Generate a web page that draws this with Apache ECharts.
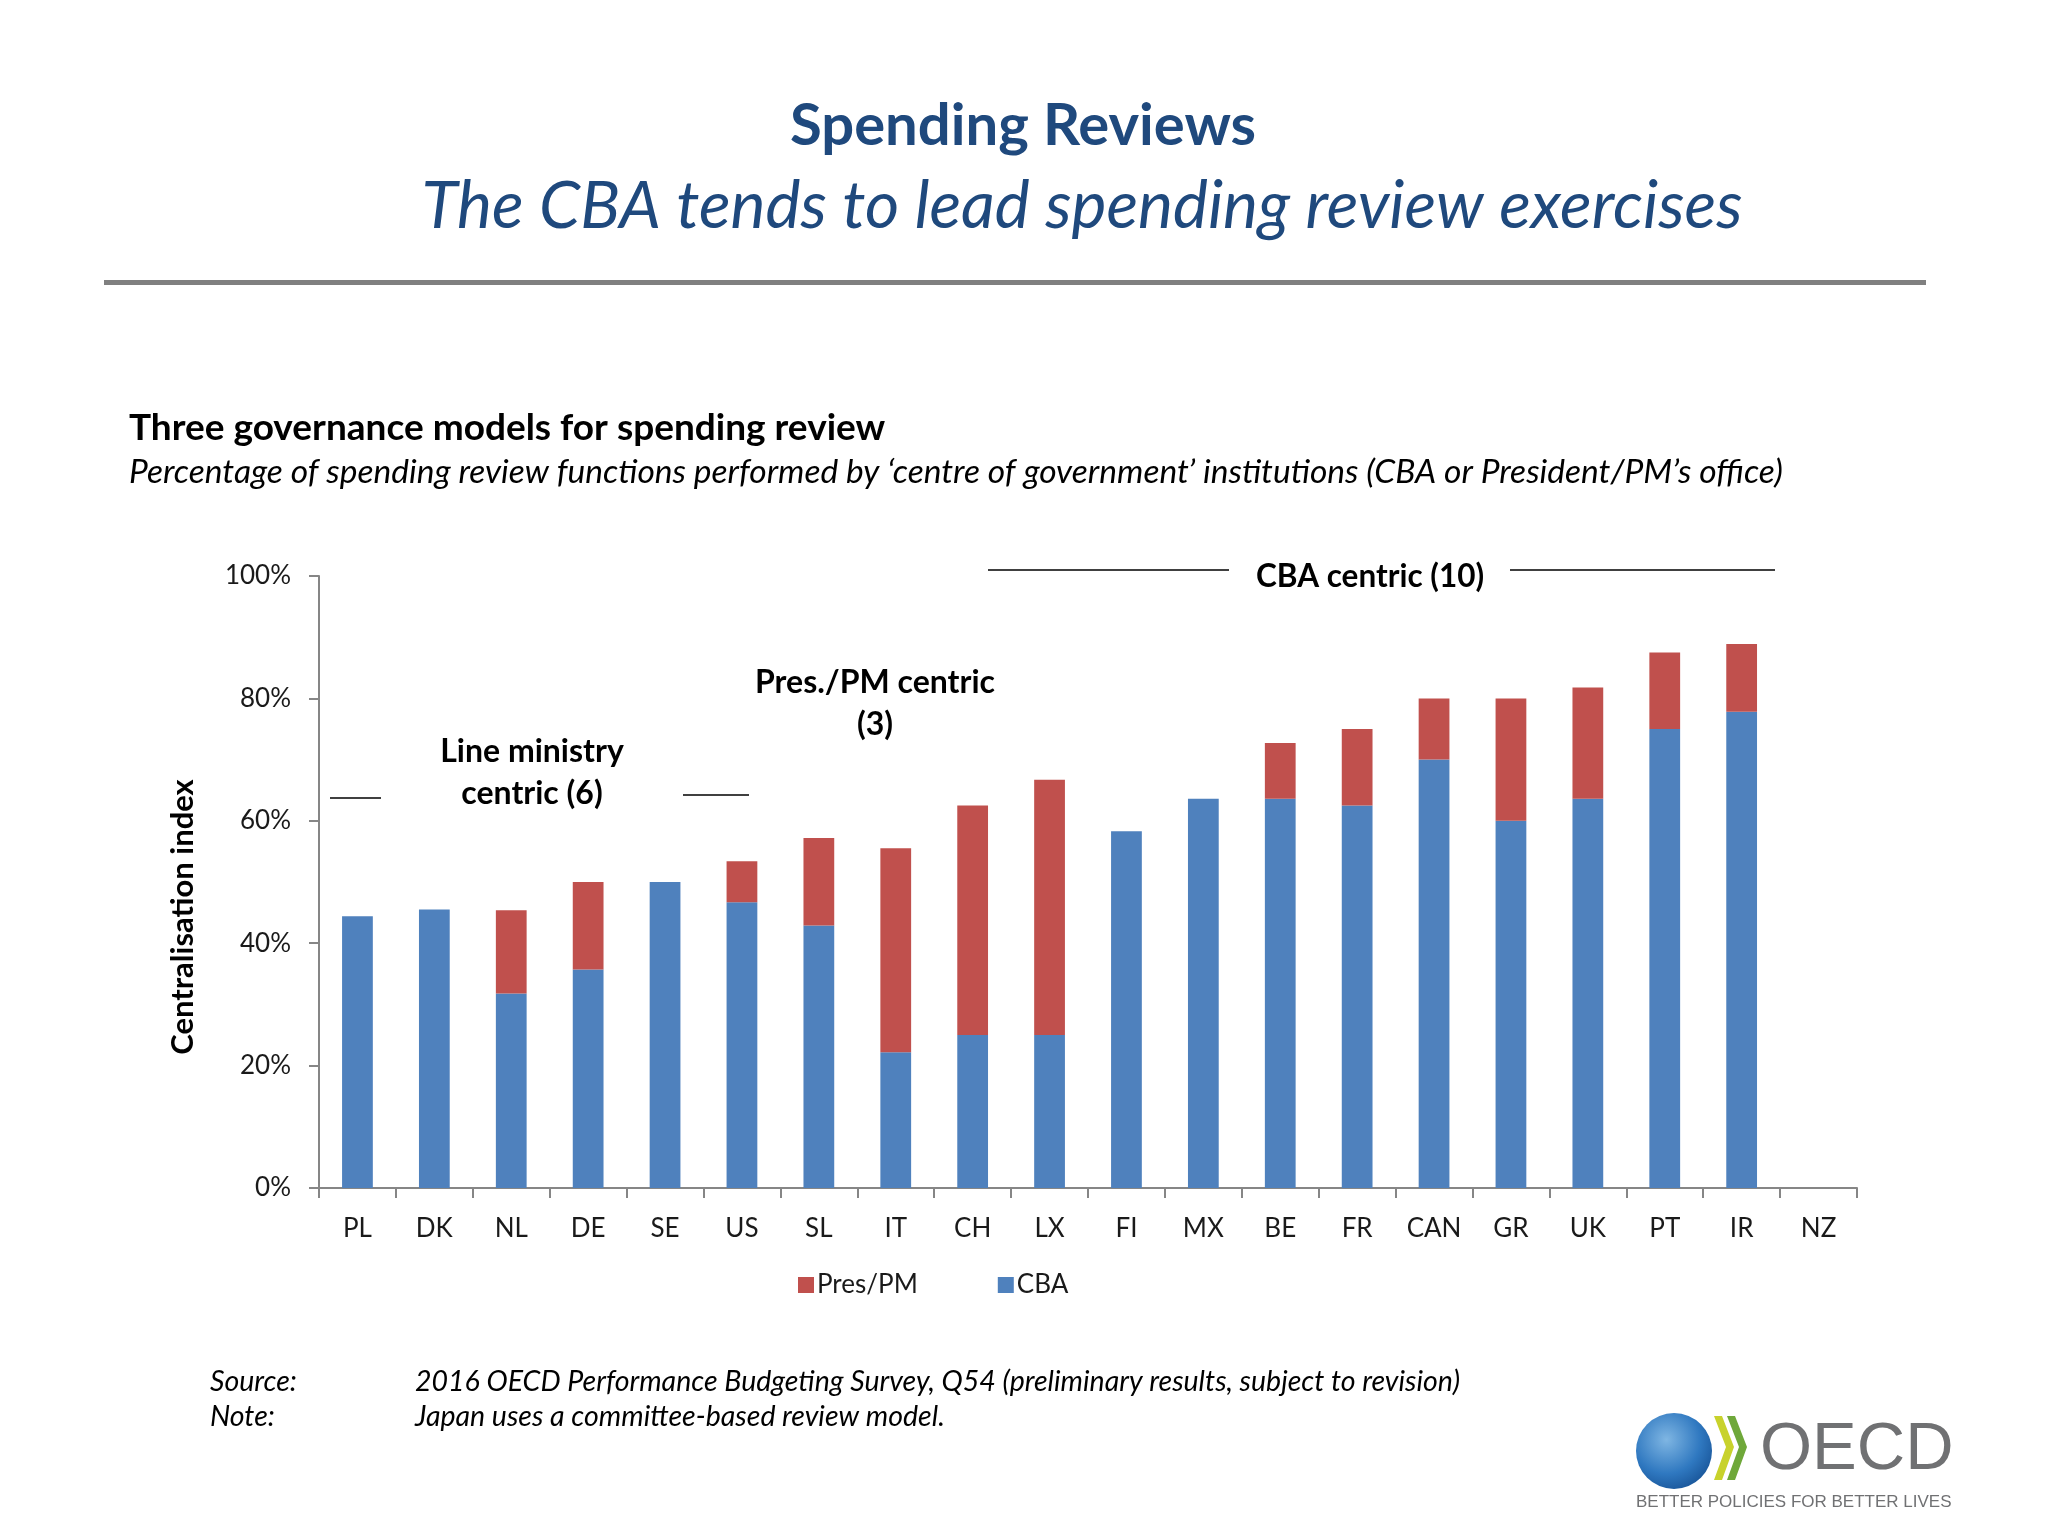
<!DOCTYPE html>
<html>
<head>
<meta charset="utf-8">
<title>Spending Reviews</title>
<script src="https://cdn.jsdelivr.net/npm/echarts@6/dist/echarts.min.js"></script>
<style>
  html, body { margin: 0; padding: 0; background: #ffffff; }
  #chart { width: 2048px; height: 1536px; }
</style>
</head>
<body>
<div id="chart"></div>
<script>
// countries, ordered as in the survey chart
const countries = ['PL', 'DK', 'NL', 'DE', 'SE', 'US', 'SL', 'IT', 'CH', 'LX',
  'FI', 'MX', 'BE', 'FR', 'CAN', 'GR', 'UK', 'PT', 'IR', 'NZ'];

// share of functions done by the central budget authority (%)
const cbaShare = [44.4, 45.5, 31.8, 35.7, 50.0, 46.7, 42.9, 22.2, 25.0, 25.0,
  58.3, 63.6, 63.6, 62.5, 70.0, 60.0, 63.6, 75.0, 77.8, null];

// share done by the President / PM office (%)
const presShare = [0, 0, 13.6, 14.3, 0, 6.7, 14.3, 33.3, 37.5, 41.7,
  0, 0, 9.1, 12.5, 10.0, 20.0, 18.2, 12.5, 11.1, null];

const yTicks = [0, 20, 40, 60, 80, 100];

const FONT = 'Lato, "Open Sans", sans-serif';
const BLUE = '#4F81BD';
const RED = '#C0504D';
const AXIS = '#868686';
const NAVY = '#1F497D';

const chart = echarts.init(document.getElementById('chart'));

const options = {
    backgroundColor: '#ffffff',
    textStyle: { fontFamily: FONT },
    animation: false,
    grid: { left: 319, right: 191, top: 576, bottom: 348 },
    legend: {
        data: ['Pres/PM', 'CBA'],
        left: 793,
        top: 1267,
        itemWidth: 16,
        itemHeight: 16,
        itemGap: 80,
        icon: 'rect',
        textStyle: { fontFamily: FONT, fontSize: 26, color: '#1a1a1a', padding: [0, 0, 0, -2] }
    },
    xAxis: {
        type: 'category',
        data: countries,
        axisLine: { lineStyle: { color: AXIS, width: 2 } },
        axisTick: { show: true, alignWithLabel: false, length: 10, lineStyle: { color: AXIS, width: 2 } },
        axisLabel: { interval: 0, margin: 28, fontSize: 26, color: '#1a1a1a', fontFamily: FONT }
    },
    yAxis: {
        type: 'value',
        min: yTicks[0],
        max: yTicks[yTicks.length - 1],
        interval: 20,
        splitLine: { show: false },
        axisLine: { show: true, lineStyle: { color: AXIS, width: 2 } },
        axisTick: { show: true, length: 10, lineStyle: { color: AXIS, width: 2 } },
        axisLabel: { formatter: '{value}%', margin: 28, fontSize: 26, color: '#1a1a1a', fontFamily: FONT }
    },
    series: [
        {
            name: 'CBA',
            type: 'bar',
            stack: 'total',
            barWidth: '40%',
            itemStyle: { color: BLUE },
            data: cbaShare
        },
        {
            name: 'Pres/PM',
            type: 'bar',
            stack: 'total',
            barWidth: '40%',
            itemStyle: { color: RED },
            data: presShare
        }
    ],
    graphic: [
        // page headline
        { type: 'text', x: 1023, y: 126, style: { text: 'Spending Reviews', font: 'bold 58px ' + FONT, fill: NAVY, align: 'center', verticalAlign: 'middle' } },
        { type: 'text', x: 1082, y: 207, style: { text: 'The CBA tends to lead spending review exercises', font: 'italic 66px ' + FONT, fill: NAVY, align: 'center', verticalAlign: 'middle' } },
        { type: 'rect', shape: { x: 104, y: 280, width: 1822, height: 5 }, style: { fill: '#808080' } },

        // chart heading
        { type: 'text', x: 129, y: 428, style: { text: 'Three governance models for spending review', font: 'bold 37px ' + FONT, fill: '#000', verticalAlign: 'middle' } },
        { type: 'text', x: 129, y: 472, style: { text: 'Percentage of spending review functions performed by \u2018centre of government\u2019 institutions (CBA or President/PM\u2019s office)', font: 'italic 33.5px ' + FONT, fill: '#000', verticalAlign: 'middle' } },

        // y axis title
        { type: 'text', x: 183, y: 917, rotation: Math.PI / 2, style: { text: 'Centralisation index', font: 'bold 31px ' + FONT, fill: '#000', align: 'center', verticalAlign: 'middle' } },

        // group annotations
        { type: 'text', x: 532, y: 773, style: { text: 'Line ministry\ncentric (6)', font: 'bold 32px ' + FONT, fill: '#000', align: 'center', verticalAlign: 'middle', lineHeight: 42 } },
        { type: 'line', shape: { x1: 330, y1: 798, x2: 381, y2: 798 }, style: { stroke: '#000', lineWidth: 1.5 } },
        { type: 'line', shape: { x1: 683, y1: 795, x2: 749, y2: 795 }, style: { stroke: '#000', lineWidth: 1.5 } },

        { type: 'text', x: 875, y: 704, style: { text: 'Pres./PM centric\n(3)', font: 'bold 32px ' + FONT, fill: '#000', align: 'center', verticalAlign: 'middle', lineHeight: 42 } },

        { type: 'text', x: 1370, y: 577, style: { text: 'CBA centric (10)', font: 'bold 31.5px ' + FONT, fill: '#000', align: 'center', verticalAlign: 'middle' } },
        { type: 'line', shape: { x1: 988, y1: 570, x2: 1229, y2: 570 }, style: { stroke: '#000', lineWidth: 1.5 } },
        { type: 'line', shape: { x1: 1510, y1: 570, x2: 1775, y2: 570 }, style: { stroke: '#000', lineWidth: 1.5 } },

        // footnotes
        { type: 'text', x: 210, y: 1382, style: { text: 'Source:', font: 'italic 28.5px ' + FONT, fill: '#000', verticalAlign: 'middle' } },
        { type: 'text', x: 415, y: 1382, style: { text: '2016 OECD Performance Budgeting Survey, Q54 (preliminary results, subject to revision)', font: 'italic 28.5px ' + FONT, fill: '#000', verticalAlign: 'middle' } },
        { type: 'text', x: 210, y: 1417, style: { text: 'Note:', font: 'italic 28.5px ' + FONT, fill: '#000', verticalAlign: 'middle' } },
        { type: 'text', x: 415, y: 1417, style: { text: 'Japan uses a committee-based review model.', font: 'italic 28.5px ' + FONT, fill: '#000', verticalAlign: 'middle' } },

        // OECD logo
        {
            type: 'circle', shape: { cx: 1674, cy: 1451, r: 38 },
            style: {
                fill: new echarts.graphic.RadialGradient(0.4, 0.35, 0.75, [
                    { offset: 0, color: '#7fb6e3' },
                    { offset: 0.6, color: '#2f78c0' },
                    { offset: 1, color: '#154f92' }
                ])
            }
        },
        { type: 'polygon', shape: { points: [[1714, 1416], [1722, 1416], [1734, 1447], [1722, 1480], [1714, 1480], [1726, 1447]] }, style: { fill: '#c8d22c' } },
        { type: 'polygon', shape: { points: [[1727, 1416], [1735, 1416], [1747, 1447], [1735, 1480], [1727, 1480], [1739, 1447]] }, style: { fill: '#6fa83a' } },
        { type: 'text', x: 1760, y: 1451, style: { text: 'OECD', font: '67px "Liberation Sans", Arial, sans-serif', fill: '#707173', verticalAlign: 'middle' } },
        { type: 'text', x: 1636, y: 1502, style: { text: 'BETTER POLICIES FOR BETTER LIVES', font: '17px "Liberation Sans", Arial, sans-serif', fill: '#707173', verticalAlign: 'middle' } }
    ]
};

chart.setOption(options);
</script>
</body>
</html>
